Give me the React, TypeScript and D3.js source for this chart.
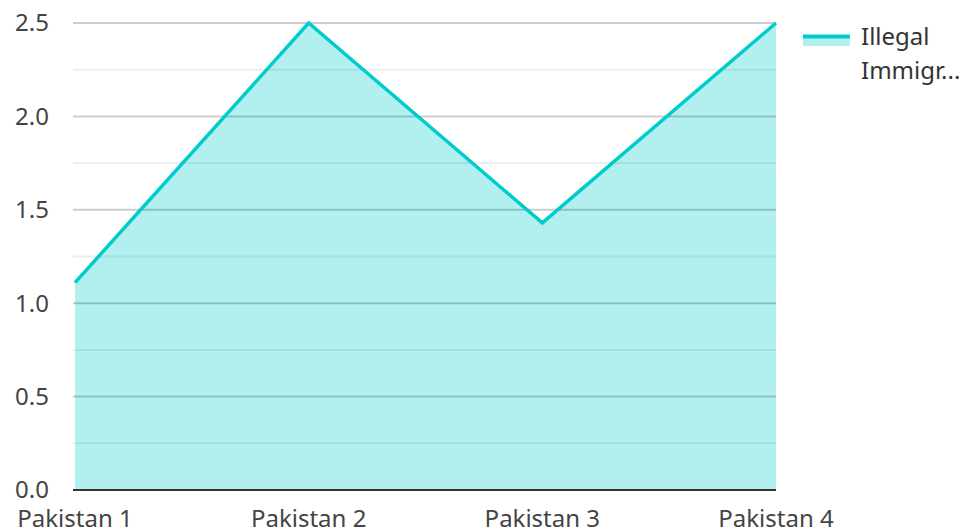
import * as d3 from 'd3';
import { useEffect, useRef } from 'react';

const categories = ['Pakistan 1', 'Pakistan 2', 'Pakistan 3', 'Pakistan 4'];
const values = [1.11, 2.5, 1.43, 2.5];
const seriesName = ['Illegal', 'Immigr...'];
const yTicks = [0, 0.5, 1, 1.5, 2, 2.5];
const yMinorTicks = [0.25, 0.75, 1.25, 1.75, 2.25];

const WIDTH = 963;
const HEIGHT = 531;
const MARGIN = { top: 23, right: 187, bottom: 41, left: 75 };
const LINE_COLOR = '#00cccc';
const FONT = '"Noto Sans", sans-serif';
const FONT_SIZE = 24;

export default function App() {
  const ref = useRef<SVGGElement | null>(null);

  const boundsWidth = WIDTH - MARGIN.left - MARGIN.right;
  const boundsHeight = HEIGHT - MARGIN.top - MARGIN.bottom;

  useEffect(() => {
    const g = d3.select(ref.current);
    g.selectAll('*').remove();

    const x = d3.scalePoint<string>().domain(categories).range([0, boundsWidth]);
    const y = d3.scaleLinear().domain([0, 2.5]).range([boundsHeight, 0]);

    const data = categories.map((c, i) => ({ c, v: values[i] }));

    // area fill
    const area = d3
      .area<{ c: string; v: number }>()
      .x((d) => x(d.c) ?? 0)
      .y0(y(0))
      .y1((d) => y(d.v));
    g.append('path').attr('d', area(data) ?? '').attr('fill', LINE_COLOR).attr('fill-opacity', 0.3);

    // grid lines (drawn over the fill)
    g.selectAll('.minor')
      .data(yMinorTicks)
      .join('line')
      .attr('x1', -2)
      .attr('x2', boundsWidth)
      .attr('y1', (d) => y(d))
      .attr('y2', (d) => y(d))
      .attr('stroke', '#000')
      .attr('stroke-opacity', 0.07)
      .attr('stroke-width', 2);
    g.selectAll('.major')
      .data(yTicks.filter((t) => t > 0))
      .join('line')
      .attr('x1', -2)
      .attr('x2', boundsWidth)
      .attr('y1', (d) => y(d))
      .attr('y2', (d) => y(d))
      .attr('stroke', '#000')
      .attr('stroke-opacity', 0.2)
      .attr('stroke-width', 2);

    // line
    const line = d3
      .line<{ c: string; v: number }>()
      .x((d) => x(d.c) ?? 0)
      .y((d) => y(d.v));
    g.append('path')
      .attr('d', line(data) ?? '')
      .attr('fill', 'none')
      .attr('stroke', LINE_COLOR)
      .attr('stroke-width', 3.5)
      .attr('stroke-linejoin', 'miter');

    // x axis line
    g.append('line')
      .attr('x1', -2)
      .attr('x2', boundsWidth)
      .attr('y1', boundsHeight)
      .attr('y2', boundsHeight)
      .attr('stroke', '#333')
      .attr('stroke-width', 2);

    // y tick labels
    g.selectAll('.ylab')
      .data(yTicks)
      .join('text')
      .attr('x', -60)
      .attr('y', (d) => y(d))
      .attr('dy', '0.35em')
      .attr('font-family', FONT)
      .attr('font-size', FONT_SIZE)
      .attr('fill', '#444')
      .text((d) => d.toFixed(1));

    // x tick labels
    g.selectAll('.xlab')
      .data(categories)
      .join('text')
      .attr('x', (d) => x(d) ?? 0)
      .attr('y', boundsHeight + 37)
      .attr('text-anchor', 'middle')
      .attr('font-family', FONT)
      .attr('font-size', FONT_SIZE)
      .attr('fill', '#444')
      .text((d) => d);

    // legend
    const lg = g.append('g').attr('transform', `translate(${boundsWidth + 27}, 12)`);
    lg.append('rect').attr('x', 0).attr('y', 0).attr('width', 47).attr('height', 11).attr('fill', LINE_COLOR).attr('fill-opacity', 0.3);
    lg.append('line').attr('x1', 0).attr('x2', 47).attr('y1', 1.5).attr('y2', 1.5).attr('stroke', LINE_COLOR).attr('stroke-width', 4);
    lg.selectAll('.ltext')
      .data(seriesName)
      .join('text')
      .attr('x', 58)
      .attr('y', (_, i) => 10 + i * 34)
      .attr('font-family', FONT)
      .attr('font-size', FONT_SIZE)
      .attr('fill', '#333')
      .text((d) => d);
  }, [boundsWidth, boundsHeight]);

  return (
    <div style={{ position: 'absolute', left: 0, top: 0 }}>
      <svg width={WIDTH} height={HEIGHT} style={{ display: 'block' }}>
        <g ref={ref} transform={`translate(${MARGIN.left},${MARGIN.top})`} />
      </svg>
    </div>
  );
}
